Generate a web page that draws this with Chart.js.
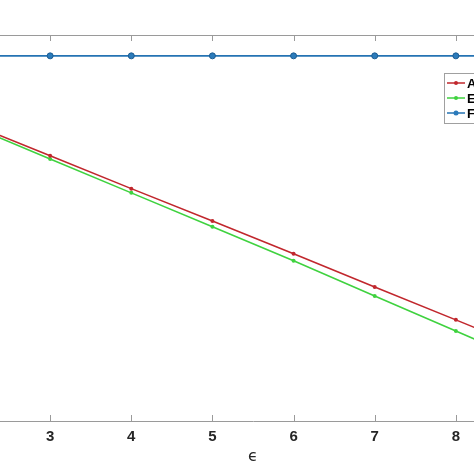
<!DOCTYPE html>
<html>
<head>
<meta charset="utf-8">
<script src="https://cdn.jsdelivr.net/npm/chart.js@4.4.1/dist/chart.umd.min.js"></script>
<style>
    html, body { margin: 0; padding: 0; background: #fff; }
    #wrap { position: relative; width: 474px; height: 474px; overflow: hidden; }
    #chart { position: absolute; left: -60px; top: 0; }
</style>
</head>
<body>
<div id="wrap"><canvas id="chart" width="620" height="474"></canvas></div>
<script>
// values (y in arbitrary units, 0..1)
var epsilon = [2, 3, 4, 5, 6, 7, 8, 9];
var seriesA = [0.772, 0.687, 0.602, 0.518, 0.433, 0.347, 0.262, 0.176];
var seriesE = [0.767, 0.679, 0.591, 0.503, 0.415, 0.324, 0.233, 0.142];
var seriesF = [0.946, 0.946, 0.946, 0.946, 0.946, 0.946, 0.946, 0.946];
var seriesLabels = ['Analytical', 'EKF', 'FIM'];

var AXIS_COLOR = '#9a9a9a';

function toPoints(xs, ys) {
    var pts = [];
    for (var i = 0; i < xs.length; i++) pts.push({ x: xs[i], y: ys[i] });
    return pts;
}

// MATLAB-like frame: top edge, side edges and inward tick marks
var framePlugin = {
    id: 'frame',
    afterDraw: function (chart) {
        var ctx = chart.ctx;
        var area = chart.chartArea;
        var xs = chart.scales.x;
        ctx.save();
        ctx.strokeStyle = AXIS_COLOR;
        ctx.lineWidth = 1;
        ctx.beginPath();
        ctx.moveTo(area.left, area.top + 0.5);
        ctx.lineTo(area.right, area.top + 0.5);
        ctx.moveTo(area.left + 0.5, area.top);
        ctx.lineTo(area.left + 0.5, area.bottom);
        ctx.moveTo(area.right - 0.5, area.top);
        ctx.lineTo(area.right - 0.5, area.bottom);
        for (var i = 0; i < epsilon.length; i++) {
            var px = Math.round(xs.getPixelForValue(epsilon[i])) + 0.5;
            ctx.moveTo(px, area.bottom);
            ctx.lineTo(px, area.bottom - 6);
            ctx.moveTo(px, area.top);
            ctx.lineTo(px, area.top + 6);
        }
        ctx.stroke();
        ctx.restore();
    }
};

// legend box drawn inside the plot (north-east)
var boxLegendPlugin = {
    id: 'boxLegend',
    afterDraw: function (chart) {
        var ctx = chart.ctx;
        var left = 504, top = 73, rowH = 15;
        var sets = chart.data.datasets;
        ctx.save();
        ctx.fillStyle = '#fff';
        ctx.strokeStyle = '#a0a0a0';
        ctx.lineWidth = 1;
        ctx.fillRect(left + 0.5, top + 0.5, 110, 50);
        ctx.strokeRect(left + 0.5, top + 0.5, 110, 50);
        ctx.font = 'bold 13px "Liberation Sans", Arial, sans-serif';
        ctx.textBaseline = 'middle';
        for (var i = 0; i < sets.length; i++) {
            var y = top + 10 + i * rowH;
            ctx.strokeStyle = sets[i].borderColor;
            ctx.lineWidth = 1.5;
            ctx.beginPath();
            ctx.moveTo(left + 3, y);
            ctx.lineTo(left + 21, y);
            ctx.stroke();
            ctx.fillStyle = sets[i].pointBackgroundColor;
            ctx.beginPath();
            ctx.arc(left + 12, y, Math.min(sets[i].pointRadius, 2.5), 0, Math.PI * 2);
            ctx.fill();
            ctx.fillStyle = '#000';
            ctx.fillText(seriesLabels[i], left + 23, y + 1);
        }
        ctx.restore();
    }
};

new Chart(document.getElementById('chart').getContext('2d'), {
    type: 'line',
    data: {
        datasets: [
            {
                label: seriesLabels[0], data: toPoints(epsilon, seriesA),
                borderColor: '#c1272d', borderWidth: 1.6,
                pointRadius: 2, pointBackgroundColor: '#c1272d', pointBorderWidth: 0
            },
            {
                label: seriesLabels[1], data: toPoints(epsilon, seriesE),
                borderColor: '#3fd23f', borderWidth: 1.6,
                pointRadius: 2, pointBackgroundColor: '#3fd23f', pointBorderWidth: 0
            },
            {
                label: seriesLabels[2], data: toPoints(epsilon, seriesF),
                borderColor: '#2573b3', borderWidth: 1.8,
                pointRadius: 3, pointBackgroundColor: '#2b7bbb', pointBorderColor: '#1d5d92', pointBorderWidth: 1
            }
        ]
    },
    options: {
        responsive: false,
        animation: false,
        devicePixelRatio: 1,
        layout: { padding: { left: 29, right: 23, top: 35, bottom: 0 } },
        plugins: {
            legend: { display: false },
            tooltip: { enabled: false }
        },
        scales: {
            x: {
                type: 'linear',
                min: 2,
                max: 9,
                grid: { display: false, drawTicks: false, tickLength: 0 },
                border: { display: true, color: AXIS_COLOR, width: 1 },
                ticks: {
                    stepSize: 1,
                    padding: 7,
                    color: '#262626',
                    font: { family: '"Liberation Sans", Arial, sans-serif', size: 15, weight: 'bold' }
                },
                title: {
                    display: true,
                    text: 'ϵ',
                    color: '#262626',
                    padding: { top: -6, bottom: 7.8 },
                    font: { family: '"DejaVu Sans", sans-serif', size: 16 }
                }
            },
            y: {
                display: false,
                min: 0,
                max: 1
            }
        }
    },
    plugins: [framePlugin, boxLegendPlugin]
});
</script>
</body>
</html>
